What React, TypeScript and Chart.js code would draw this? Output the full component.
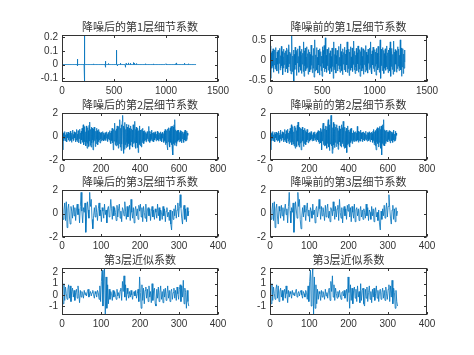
import React, { useEffect, useRef } from "react";
import { Chart, registerables } from "chart.js";

Chart.register(...registerables);

// ---------------- data ----------------
// Level-1 detail coefficients after denoising: zero except at these samples
const detail1Length = 1290;
const detail1DenoisedSpikeIdx = [147, 150, 215, 219, 300, 415, 418, 450, 526, 530, 560, 612, 616, 640, 660, 686, 700, 720, 800, 880, 1000, 1090, 1103, 1180, 1220];
const detail1DenoisedSpikeVal = [0.04, -0.01, 0.215, -0.127, 0.005, 0.025, -0.02, 0.008, 0.105, -0.01, 0.01, -0.02, 0.008, 0.012, 0.01, 0.015, 0.01, 0.008, 0.006, 0.005, 0.005, 0.006, 0.012, 0.01, 0.006];

// Level-1 detail coefficients before denoising (every 4th sample)
const detail1NoisyStep = 4;
const detail1Noisy = [
  0.12, 0.35, -0.45, 0.18, -0.2, 0.22, -0.15, 0.28, -0.3, 0.1, -0.12, 0.25, -0.22, 0.31, -0.18, 0.05, -0.27, 0.2, -0.1, 0.24,
  -0.33, 0.15, -0.08, 0.29, -0.24, 0.11, -0.19, 0.34, -0.14, 0.21, -0.36, 0.08, -0.2, 0.27, -0.11, 0.18, -0.29, 0.23, -0.06, 0.3,
  -0.21, 0.13, -0.31, 0.26, -0.17, 0.38, -0.09, 0.2, -0.26, 0.16, -0.34, 0.22, 0.62, -0.28, 0.1, -0.19, 0.25, -0.54, 0.14, -0.23,
  0.32, -0.12, 0.19, -0.38, 0.24, -0.07, 0.28, -0.22, 0.09, -0.3, 0.35, -0.16, 0.21, -0.25, 0.12, -0.33, 0.27, -0.1, 0.17, -0.28,
  0.45, -0.4, 0.23, -0.14, 0.3, -0.26, 0.08, -0.21, 0.33, -0.18, 0.16, -0.35, 0.26, -0.09, 0.2, -0.29, 0.14, -0.23, 0.37, -0.13,
  0.22, -0.31, 0.11, -0.2, 0.29, -0.42, 0.18, 0.5, -0.27, 0.13, -0.17, 0.31, -0.24, 0.07, -0.32, 0.25, -0.12, 0.19, -0.37, 0.28,
  -0.15, 0.21, -0.26, 0.1, -0.4, 0.33, -0.08, 0.24, -0.19, 0.36, -0.29, 0.15, 0.55, -0.22, 0.12, -0.3, 0.27, -0.14, 0.2, -0.25,
  0.31, -0.11, 0.17, -0.34, 0.23, -0.2, 0.09, -0.28, 0.3, -0.16, 0.26, -0.45, 0.45, -0.23, 0.14, -0.18, 0.29, -0.32, 0.11, -0.09,
  0.24, -0.27, 0.18, -0.13, 0.34, -0.22, 0.07, -0.3, 0.4, -0.15, 0.21, -0.26, 0.13, -0.36, 0.28, -0.1, 0.19, -0.24, 0.32, -0.17,
  0.15, -0.29, 0.25, -0.12, 0.45, -0.31, 0.1, -0.21, 0.27, -0.38, 0.2, -0.14, 0.33, -0.25, 0.08, -0.19, 0.3, -0.28, 0.16, -0.11,
  0.47, -0.24, 0.22, -0.33, 0.12, -0.17, 0.29, -0.26, 0.18, -0.09, 0.35, -0.3, 0.14, -0.22, 0.26, -0.4, 0.21, -0.13, 0.31, -0.27,
  0.09, -0.2, 0.28, -0.35, 0.17, -0.11, 0.24, -0.29, 0.36, -0.16, 0.2, -0.25, 0.13, -0.32, 0.27, -0.08, 0.19, -0.23, 0.3, -0.18,
  0.45, -0.26, 0.15, -0.34, 0.23, -0.12, 0.32, -0.21, 0.1, -0.28, 0.26, -0.15, 0.2, -0.37, 0.29, -0.1, 0.17, -0.24, 0.34, -0.19,
  0.22, -0.3, 0.12, 0.5, -0.45, 0.27, -0.14, 0.19, -0.26, 0.31, -0.09, 0.24, -0.33, 0.16, -0.2, 0.28, -0.25, 0.11, -0.17, 0.35,
  -0.22, 0.18, -0.31, 0.25, -0.13, 0.3, -0.27, 0.45, -0.4, 0.21, -0.16, 0.29, -0.23, 0.14, -0.35, 0.47, -0.12, 0.2, -0.28, 0.26,
  -0.1, 0.23, -0.3, 0.17, -0.21, 0.33, -0.15, 0.27, -0.26, 0.12, -0.19, 0.5, -0.24, 0.3, -0.4, 0.22, -0.17, 0.28, -0.33, 0.15,
  -0.2, 0.25, -0.05,
];

// Level-2 detail coefficients (every 2nd sample) — same before/after denoising
const detail2Step = 2;
const detail2 = [
  0.4, -0.3, -1.14, 0.25, -0.35, 0.3, -0.2, 0.42, -0.38, 0.15, -0.25, 0.35, -0.45, 0.2, -0.1, 0.38, -0.3, 0.22, -0.4, 0.3,
  -0.15, 0.45, -0.33, 0.1, -0.5, 0.28, -0.2, 0.55, -0.36, 0.18, -0.28, 0.4, -0.12, 0.33, -0.47, 0.24, -0.3, 0.6, -0.42, 0.2,
  -0.25, 0.5, -0.55, 0.35, -0.18, 0.62, -0.4, 0.3, -0.6, 0.45, -0.3, 0.7, -0.5, 0.25, 1.0, -0.7, 0.55, -0.45, 0.85, -0.65,
  0.4, -0.8, 0.9, -0.5, -1.0, 0.75, -0.6, 0.5, -0.85, 0.95, -0.4, 1.23, -0.75, 0.6, -0.9, 0.8, -0.55, 0.7, -0.3, -1.14,
  0.65, -0.5, 0.8, -0.35, 0.55, -0.86, 0.45, -0.6, 0.7, -0.25, 0.5, -0.7, 0.35, -0.45, 0.6, -0.3, 0.4, -0.55, 0.3, -0.2,
  0.35, -0.4, 0.25, -0.3, 0.42, -0.2, 0.3, -0.38, 0.15, -0.25, 0.33, -0.35, 0.22, -0.15, 0.4, -0.3, 0.18, -0.42, 0.28, -0.22,
  0.38, -0.3, 0.5, -0.45, 0.3, -0.6, 0.45, -0.35, 0.7, -0.55, 0.4, -1.14, 0.6, -0.4, 0.8, 1.14, -0.7, 0.5, -0.8, 0.65,
  -0.5, 0.9, -0.75, 0.55, -1.0, 0.85, -0.6, 1.1, 1.43, -0.9, 0.7, -1.2, 1.0, -0.65, 1.3, 1.8, -0.8, 0.9, -1.43, 0.75,
  -1.1, 1.2, -0.7, 0.6, -0.95, 1.05, -0.5, 0.8, -0.85, 0.55, 1.0, -0.6, 0.7, -1.09, 0.5, -0.75, 0.9, -0.45, 0.65, -0.8,
  0.55, -0.9, 1.0, -0.6, 0.75, -0.5, 1.29, -0.85, 0.6, -1.0, 0.8, -0.55, 0.45, -0.95, 0.7, -1.37, 0.5, -0.7, 0.9, -0.6,
  0.55, -0.8, 0.4, -0.9, 0.6, -0.5, 0.7, -0.35, 0.45, -0.6, 0.3, -0.4, 0.5, -0.3, 0.35, -0.45, 0.25, -0.35, 0.42, -0.2,
  0.3, -0.4, 0.86, -0.3, 0.45, -0.5, 0.2, -0.35, 0.4, -0.25, 0.55, -0.4, 0.3, -0.2, 0.35, -0.45, 0.25, -0.3, 0.4, -0.15,
  0.3, -0.38, 0.2, -0.25, 0.45, -0.3, 0.15, -0.4, 0.35, -0.2, 0.28, -0.35, 0.4, -0.25, 0.2, -0.45, 0.3, -0.15, 0.38, -0.3,
  0.25, -0.5, 0.45, -0.35, 0.6, -0.7, 0.4, -0.55, 0.5, -0.8, -1.14, 0.65, -0.45, 0.75, -0.6, 0.5, -0.9, 0.7, -0.5, 0.85,
  -0.7, 0.6, -1.0, 0.9, -1.57, 0.8, -0.6, 1.0, -0.75, 1.43, -0.5, 0.57, -0.8, 0.45, -0.6, 0.5, -0.4, 0.55, -0.3, 0.4,
  -0.45, 0.35, -0.25, 0.5, -0.4, 0.3, -0.55, 0.45, -0.2, 0.38, -0.35, 0.25, -0.5, 0.4, -0.3, 0.55, -0.4, 0.2, -0.35, 0.45,
  -0.25, 0.3, 0.1,
];

// Level-3 detail coefficients (every 2nd sample) — same before/after denoising
const detail3Step = 2;
const detail3 = [
  0.1, -0.5, 0.3, 0.9, -0.6, 1.0, -1.2, 0.4, 0.8, -0.3, -0.9, 0.6, 0.2, -0.4, 0.7, -0.2, 0.5, -0.6, 0.3, 0.8,
  -0.1, 0.4, -0.8, 0.6, 1.8, 0.2, -0.8, 0.5, 0.1, 0.9, -1.6, -0.3, 1.0, 0.3, -0.4, 1.8, 0.6, 1.2, -0.5, -1.3,
  -0.2, 0.5, -0.3, 0.7, 0.1, -0.6, 0.4, 0.9, -0.2, 0.3, -0.7, 0.5, 0.2, -0.4, 0.8, -0.1, 0.3, -0.8, 0.4, 0.6,
  -0.3, 0.2, 1.2, 0.4, -0.5, 0.6, -0.2, 0.5, 0.1, -0.6, 0.7, -0.3, 0.4, 0.8, -0.4, 0.2, -0.7, 0.5, 0.3, -0.2,
  1.0, 0.2, -0.5, 0.6, -0.3, 0.4, 0.7, -0.6, 1.2, 0.1, -0.4, 0.5, -0.8, 0.3, 0.6, -0.2, 0.4, -0.5, 0.7, 0.2,
  0.8, -0.3, 0.5, -0.7, 0.6, 0.1, -0.4, 0.8, -0.7, 0.3, 0.5, -0.2, 0.4, -0.6, 0.2, 0.6, -0.3, 0.3, -0.5, 0.4,
  0.1, -0.4, 0.8, -0.2, 0.5, -0.6, 0.3, 0.1, -0.5, 0.6, -0.2, 0.4, -0.7, 0.2, 0.5, -0.3, 0.1, -0.6, 0.3, -0.9,
  -1.4, 0.2, -0.5, 0.4, -0.2, 0.7, -0.4, 0.3, 0.9, -0.3, 0.6, 1.6, 0.5, -0.4, -0.9, 0.3, 0.7, -0.5, 0.4, -0.7,
  0.5, -0.2, 0.2,
];

// Level-3 approximation coefficients (every 2nd sample)
const approx3Step = 2;
const approx3 = [
  0.2, -0.8, 1.0, -0.5, 0.7, 0.1, -0.4, 0.5, 0.9, -0.3, 0.8, -0.6, 0.3, 0.6, -0.2, 0.4, -0.5, 0.2, 0.5, -0.3,
  0.8, 0.1, -0.7, 0.4, -0.2, 0.3, 0.1, -0.3, 0.4, 0.0, 0.2, -0.1, 0.3, 0.5, -0.2, 0.1, 0.3, -0.1, 0.2, 0.4,
  0.0, -0.3, 0.3, 0.1, -0.2, 0.4, 0.2, -0.4, 0.8, -0.6, 1.2, 2.2, -1.0, 1.5, 2.4, -1.8, 1.6, -1.2, 0.9, -0.8,
  0.5, -0.4, 0.3, 0.1, -0.5, 0.4, -0.2, 0.3, 0.0, -0.4, 0.5, -0.1, 0.2, -0.3, 0.4, 0.6, -0.5, 1.2, 0.3, 1.7,
  -0.2, 0.9, -0.5, 0.6, 0.1, -0.3, 0.3, -0.2, 0.4, 0.0, -0.4, 0.2, 0.3, -0.1, 0.4, -0.3, 0.1, 0.5, -0.6, 1.6,
  0.2, -1.2, 0.9, -0.5, 0.6, -0.8, 0.4, 0.7, -0.3, 0.5, -0.6, 0.8, -0.2, 0.3, -0.7, 1.0, -0.5, 0.4, 0.6, -0.8,
  -1.0, 0.5, -0.3, 0.7, -0.6, 0.2, 0.8, -0.4, 0.3, -0.7, 0.5, -0.2, 0.6, -0.5, 0.1, 0.8, -0.3, 0.4, -0.6, 0.3,
  0.5, -0.4, 0.2, 0.6, -0.3, 0.4, -0.5, 0.7, 0.1, -0.4, 0.5, 0.9, -0.6, 0.8, -0.2, 1.3, -0.8, 0.6, 0.2, -1.2,
  0.4, -0.6, -1.0,
];

const titles = [
  "降噪后的第1层细节系数",
  "降噪前的第1层细节系数",
  "降噪后的第2层细节系数",
  "降噪前的第2层细节系数",
  "降噪后的第3层细节系数",
  "降噪前的第3层细节系数",
  "第3层近似系数",
  "第3层近似系数",
];

const xTicksL1 = [0, 500, 1000, 1500];
const xTicksL2 = [0, 200, 400, 600, 800];
const xTicksL3 = [0, 100, 200, 300, 400];

const yTicksD1Denoised = [-0.1, 0, 0.1, 0.2];
const yTicksD1Noisy = [-0.5, 0, 0.5];
const yTicksD2 = [-2, 0, 2];
const yTicksD3 = [-2, 0, 2];
const yTicksA3 = [-1, 0, 1, 2];

const yRangeD1Denoised = [-0.127, 0.215];
const yRangeD1Noisy = [-0.54, 0.62];
const yRangeD2 = [-2, 2];
const yRangeD3 = [-2, 2];
const yRangeA3 = [-1.8, 2.4];

// ---------------- layout ----------------
const FIG_W = 474;
const FIG_H = 355;
const COL_LEFT = [62, 270];
const COL_W = [156, 157];
const ROW_TOP = [35, 113, 190, 268];
const PLOT_H = 47;
const Y_AXIS_W = 40;
const X_AXIS_H = 20;
const PAD_L = 4;
const PAD_R = 18;
const PAD_T = 3.8;
const PAD_B = 2;
const TITLE_SIZE = 11;
const TITLE_PAD_TOP = 2;
const TITLE_PAD_BOTTOM = 2;
const TITLE_BLOCK = TITLE_SIZE * 1.2 + TITLE_PAD_TOP + TITLE_PAD_BOTTOM;

const LINE_COLOR = "#0072BD";
const AXIS_COLOR = "#333333";

type Pt = { x: number; y: number };

function stepSeries(vals: number[], step: number): Pt[] {
  return vals.map((y, i) => ({ x: 1 + i * step, y }));
}

function sparseSeries(length: number, idx: number[], vals: number[]): Pt[] {
  const m = new Map<number, number>();
  idx.forEach((k, j) => m.set(k, vals[j]));
  const out: Pt[] = [];
  for (let x = 1; x <= length; x++) out.push({ x, y: m.has(x) ? (m.get(x) as number) : 0 });
  return out;
}

type PanelDef = {
  title: string;
  data: Pt[];
  xMax: number;
  xTicks: number[];
  yRange: number[];
  yTicks: number[];
  col: number;
  row: number;
};

const panels: PanelDef[] = [
  { title: titles[0], data: sparseSeries(detail1Length, detail1DenoisedSpikeIdx, detail1DenoisedSpikeVal), xMax: 1500, xTicks: xTicksL1, yRange: yRangeD1Denoised, yTicks: yTicksD1Denoised, col: 0, row: 0 },
  { title: titles[1], data: stepSeries(detail1Noisy, detail1NoisyStep), xMax: 1500, xTicks: xTicksL1, yRange: yRangeD1Noisy, yTicks: yTicksD1Noisy, col: 1, row: 0 },
  { title: titles[2], data: stepSeries(detail2, detail2Step), xMax: 800, xTicks: xTicksL2, yRange: yRangeD2, yTicks: yTicksD2, col: 0, row: 1 },
  { title: titles[3], data: stepSeries(detail2, detail2Step), xMax: 800, xTicks: xTicksL2, yRange: yRangeD2, yTicks: yTicksD2, col: 1, row: 1 },
  { title: titles[4], data: stepSeries(detail3, detail3Step), xMax: 400, xTicks: xTicksL3, yRange: yRangeD3, yTicks: yTicksD3, col: 0, row: 2 },
  { title: titles[5], data: stepSeries(detail3, detail3Step), xMax: 400, xTicks: xTicksL3, yRange: yRangeD3, yTicks: yTicksD3, col: 1, row: 2 },
  { title: titles[6], data: stepSeries(approx3, approx3Step), xMax: 400, xTicks: xTicksL3, yRange: yRangeA3, yTicks: yTicksA3, col: 0, row: 3 },
  { title: titles[7], data: stepSeries(approx3, approx3Step), xMax: 400, xTicks: xTicksL3, yRange: yRangeA3, yTicks: yTicksA3, col: 1, row: 3 },
];

const boxPlugin = {
  id: "matlabBox",
  afterDraw(chart: any) {
    const { ctx, chartArea: a, scales } = chart;
    const l = Math.round(a.left) + 0.5;
    const r = Math.round(a.right) - 0.5;
    const t = Math.round(a.top) + 0.5;
    const b = Math.round(a.bottom) - 0.5;
    const tl = 2.5;
    ctx.save();
    ctx.strokeStyle = AXIS_COLOR;
    ctx.lineWidth = 1;
    ctx.strokeRect(l, t, r - l, b - t);
    ctx.beginPath();
    scales.x.ticks.forEach((tk: any) => {
      const px = Math.round(scales.x.getPixelForValue(tk.value)) + 0.5;
      ctx.moveTo(px, b);
      ctx.lineTo(px, b - tl);
      ctx.moveTo(px, t);
      ctx.lineTo(px, t + tl);
    });
    scales.y.ticks.forEach((tk: any) => {
      const py = Math.round(scales.y.getPixelForValue(tk.value)) + 0.5;
      ctx.moveTo(l, py);
      ctx.lineTo(l + tl, py);
      ctx.moveTo(r, py);
      ctx.lineTo(r - tl, py);
    });
    ctx.stroke();
    ctx.restore();
  },
};

const tickFont = { family: "'Liberation Sans', Arial, sans-serif", size: 10 };

function Panel({ p }: { p: PanelDef }) {
  const ref = useRef<HTMLCanvasElement>(null);
  const plotLeft = COL_LEFT[p.col];
  const plotW = COL_W[p.col];
  const plotTop = ROW_TOP[p.row];
  const left = plotLeft - Y_AXIS_W - PAD_L;
  const top = Math.round(plotTop - TITLE_BLOCK - PAD_T);
  const padTop = plotTop - TITLE_BLOCK - top;
  const width = PAD_L + Y_AXIS_W + plotW + PAD_R;
  const height = Math.round(padTop + TITLE_BLOCK + PLOT_H + X_AXIS_H + PAD_B);
  const padBottom = height - (padTop + TITLE_BLOCK + PLOT_H + X_AXIS_H);

  useEffect(() => {
    if (!ref.current) return;
    const chart = new Chart(ref.current, {
      type: "line",
      data: {
        datasets: [
          {
            data: p.data,
            borderColor: LINE_COLOR,
            borderWidth: 0.8,
            pointRadius: 0,
            tension: 0,
            fill: false,
          },
        ],
      },
      options: {
        animation: false,
        responsive: false,
        events: [],
        layout: { padding: { left: PAD_L, right: PAD_R, top: padTop, bottom: padBottom } },
        plugins: {
          legend: { display: false },
          tooltip: { enabled: false },
          title: {
            display: true,
            fullSize: false,
            align: "center",
            text: p.title,
            color: "#333333",
            font: { family: "'Noto Sans CJK SC', sans-serif", size: TITLE_SIZE, weight: "normal", lineHeight: 1.2 },
            padding: { top: TITLE_PAD_TOP, bottom: TITLE_PAD_BOTTOM },
          },
        },
        scales: {
          x: {
            type: "linear",
            bounds: "data",
            min: 0,
            max: p.xMax,
            grid: { display: false, drawTicks: false },
            border: { display: false },
            ticks: {
              color: AXIS_COLOR,
              font: tickFont,
              padding: 3,
              maxRotation: 0,
              autoSkip: false,
              callback: (v: any) => String(v),
            },
            afterBuildTicks: (scale: any) => {
              scale.ticks = p.xTicks.map((v) => ({ value: v }));
            },
            afterFit: (scale: any) => {
              scale.height = X_AXIS_H;
            },
          },
          y: {
            type: "linear",
            bounds: "data",
            min: p.yRange[0],
            max: p.yRange[1],
            grid: { display: false, drawTicks: false },
            border: { display: false },
            ticks: {
              color: AXIS_COLOR,
              font: tickFont,
              padding: 4,
              autoSkip: false,
              callback: (v: any) => String(v),
            },
            afterBuildTicks: (scale: any) => {
              scale.ticks = p.yTicks.map((v) => ({ value: v }));
            },
            afterFit: (scale: any) => {
              scale.width = Y_AXIS_W;
            },
          },
        },
      } as any,
      plugins: [boxPlugin],
    });
    return () => chart.destroy();
  }, []);

  return (
    <canvas
      ref={ref}
      width={width}
      height={height}
      style={{ position: "absolute", left, top, width, height, display: "block" }}
    />
  );
}

export default function App() {
  return (
    <div
      style={{
        position: "fixed",
        left: 0,
        top: 0,
        width: FIG_W,
        height: FIG_H,
        background: "#ffffff",
        overflow: "hidden",
      }}
    >
      {panels.map((p, i) => (
        <Panel key={i} p={p} />
      ))}
    </div>
  );
}
